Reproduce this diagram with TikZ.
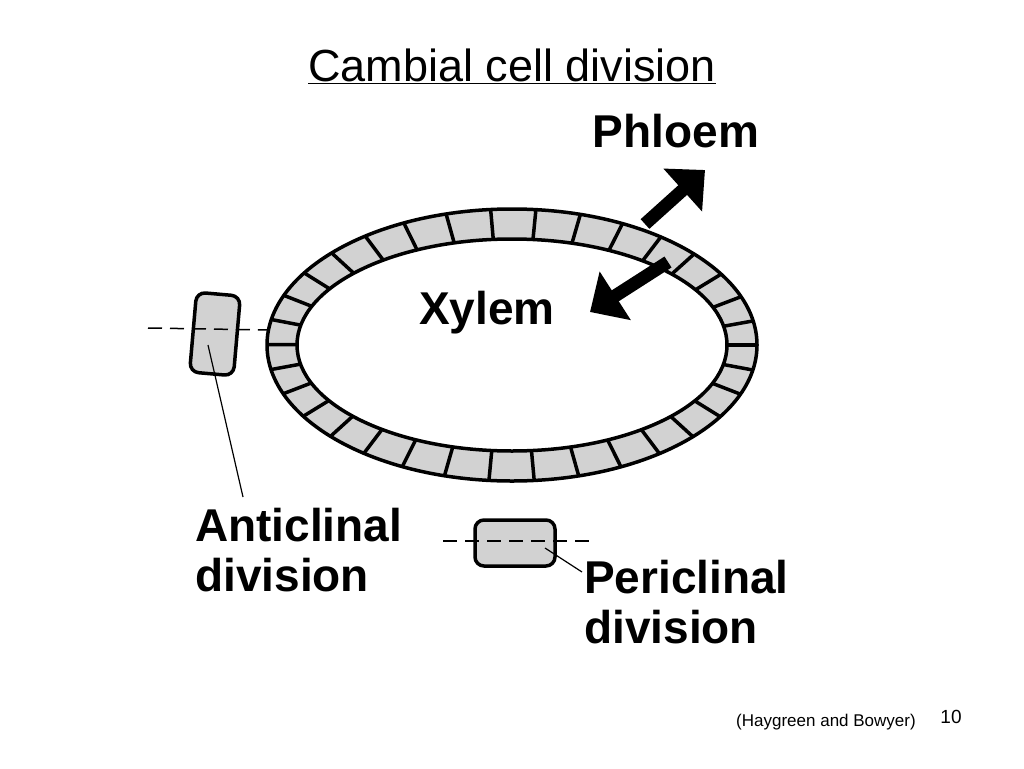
\documentclass[tikz,border=0pt]{standalone}
\usepackage{fontspec}
\setmainfont{Liberation Sans}
\usetikzlibrary{arrows.meta}
\begin{document}
\begin{tikzpicture}[x=1pt,y=-1pt,
  lbl/.style={font=\fontsize{46}{50}\selectfont\bfseries, align=left, inner sep=0},
  cellbox/.style={draw, line width=3.5pt, fill=gray!35, rounded corners=9pt, minimum width=#1},
  div/.style={dash pattern=on 14pt off 8pt, line width=1.5pt},
  bigarrow/.style={line width=13pt, -{Triangle[length=30pt,width=56pt]}}]
\useasboundingbox (0,0) rectangle (1024,768);
\node (title) at (512,66) {\fontsize{45}{45}\selectfont\underline{Cambial cell division}};
% ring
\fill[gray!35, even odd rule] (512,345) ellipse [x radius=245,y radius=136] (512,345) ellipse [x radius=215,y radius=106];
\draw[line width=3.5pt] (512,345) ellipse [x radius=245,y radius=136];
\draw[line width=3.5pt] (512,345) ellipse [x radius=215,y radius=106];
\foreach \a in {0,10.6,...,359} {
  \draw[line width=3.5pt] ({512+215*cos(\a)},{345+106*sin(\a)}) -- ({512+245*cos(\a)},{345+136*sin(\a)});
}
\node[lbl] (xylem) at (487,313) {Xylem};
\node[lbl] (phloem) at (676,131) {Phloem};
\coordinate (pa) at (645,224); \coordinate (pb) at (705,170);
\coordinate (xa) at (668,262); \coordinate (xb) at (590,312);
\draw[bigarrow] (pa) -- (pb);
\draw[bigarrow] (xa) -- (xb);
% anticlinal
\node[cellbox=44pt, minimum height=80pt, rotate=-5] (ac) at (215,334) {};
\coordinate (d1) at (148,328); \coordinate (d2) at (268,330);
\draw[div] (d1) -- (d2);
\node[lbl, anchor=north west] (anti) at (195,508) {Anticlinal\\division};
\draw[line width=1.2pt] (208,345) -- (243,497);
% periclinal
\node[cellbox=80pt, minimum height=46pt] (pc) at (515,543) {};
\coordinate (e1) at (443,541); \coordinate (e2) at (590,541);
\draw[div] (e1) -- (e2);
\node[lbl, anchor=north west] (peri) at (584,560) {Periclinal\\division};
\draw[line width=1.2pt] (545,548) -- (582,572);
\node (cite) at (826,722) {\fontsize{17}{17}\selectfont(Haygreen and Bowyer)};
\node (num) at (951,717) {\fontsize{19}{19}\selectfont 10};
\end{tikzpicture}
\end{document}
